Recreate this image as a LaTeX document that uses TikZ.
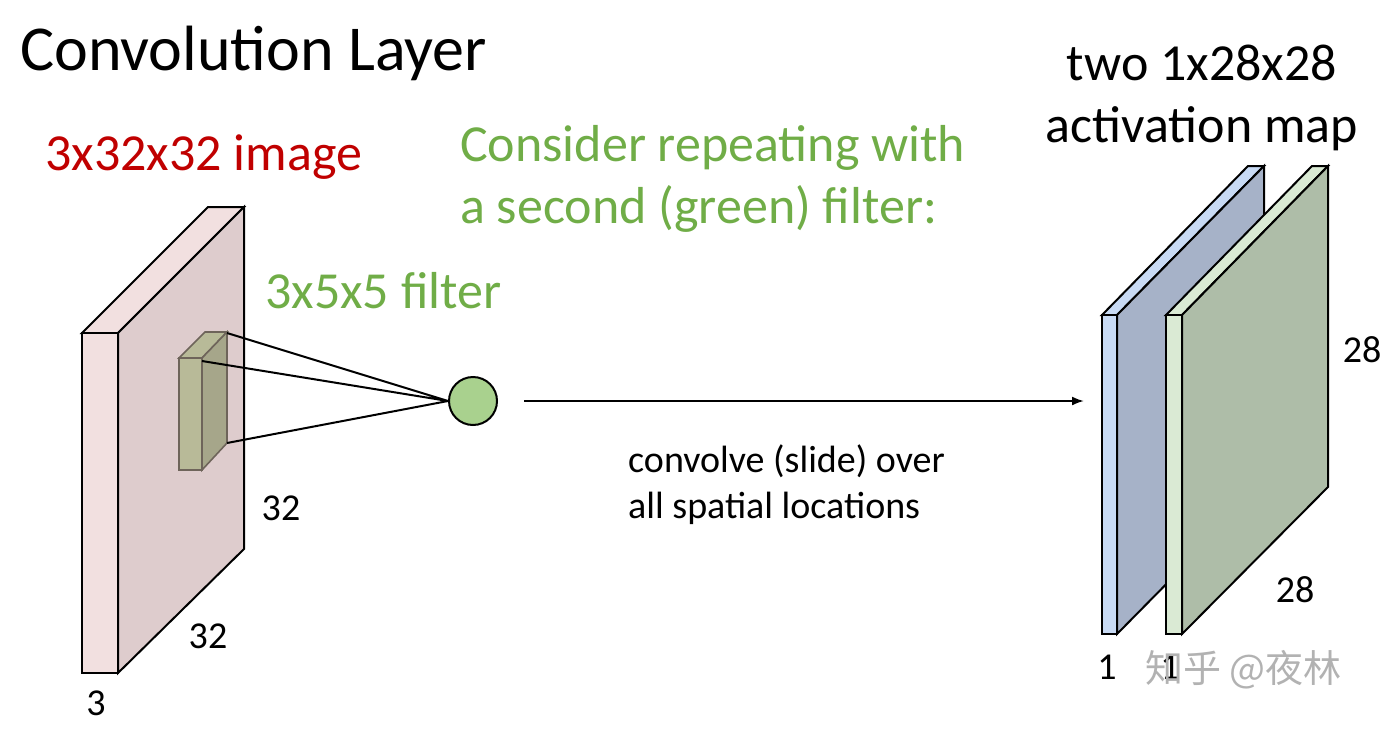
\documentclass[tikz,border=0pt]{standalone}
\usepackage{fontspec}
\usetikzlibrary{arrows.meta}
\setmainfont{Carlito}
\newfontfamily\cjk{Noto Sans CJK SC}
\definecolor{pinkF}{RGB}{242,224,224}
\definecolor{pinkS}{RGB}{222,204,205}
\definecolor{olF}{RGB}{184,186,152}
\definecolor{olS}{RGB}{166,166,138}
\definecolor{olE}{RGB}{110,100,90}
\definecolor{dotG}{RGB}{169,209,142}
\definecolor{bluF}{RGB}{200,218,244}
\definecolor{bluS}{RGB}{166,178,200}
\definecolor{grnF}{RGB}{218,234,212}
\definecolor{grnS}{RGB}{174,189,168}
\definecolor{txtR}{RGB}{192,0,0}
\definecolor{txtG}{RGB}{112,173,71}
\begin{document}
\begin{tikzpicture}[x=1pt,y=-1pt,
  face/.style={draw=black,line width=2pt,line join=miter},
  lbl/.style={font=\fontsize{38}{46}\selectfont,inner sep=0pt},
  big/.style={font=\fontsize{52}{62}\selectfont,inner sep=0pt,align=left}]
\useasboundingbox (0,0) rectangle (1397,728);
% left slab
\fill[pinkF,face] (82,333) -- (208,207) -- (244,207) -- (118,333) -- cycle;
\fill[pinkS,face] (118,333) -- (244,207) -- (244,549) -- (118,673) -- cycle;
\fill[pinkF,face] (82,333) rectangle (118,673);
% filter
\fill[olF,draw=olE,line width=1.6pt] (179,358) -- (205,332) -- (227,332) -- (202,358) -- cycle;
\fill[olS,draw=olE,line width=1.6pt] (202,358) -- (227,332) -- (227,443) -- (202,470) -- cycle;
\fill[olF,draw=olE,line width=1.6pt] (179,358) rectangle (202,470);
\coordinate (f1) at (227,333);
\coordinate (f2) at (202,361);
\coordinate (f3) at (227,443);
\node[circle,draw=black,line width=2pt,fill=dotG,minimum size=48pt,inner sep=0pt] (dot) at (473,401) {};
\draw[line width=2pt] (f1) -- (dot.west) (f2) -- (dot.west) (f3) -- (dot.west);
\coordinate (a0) at (524,401);
\coordinate (a1) at (1084,401);
\draw[line width=2pt,-{Latex[length=12pt,width=9pt]}] (a0) -- (a1);
% blue map
\fill[bluF,face] (1102,315) -- (1248,166) -- (1264,166) -- (1117,315) -- cycle;
\fill[bluS,face] (1117,315) -- (1264,166) -- (1264,485) -- (1117,634) -- cycle;
\fill[bluF,face] (1102,315) rectangle (1117,634);
% green map
\fill[grnF,face] (1166,315) -- (1312,166) -- (1328,166) -- (1182,315) -- cycle;
\fill[grnS,face] (1182,315) -- (1328,166) -- (1328,487) -- (1182,634) -- cycle;
\fill[grnF,face] (1166,315) rectangle (1182,634);
% texts
\node[anchor=west,inner sep=0pt,font=\fontsize{64}{70}\selectfont] (title) at (20,53) {Convolution Layer};
\node[big,anchor=west,text=txtR] (img) at (45,157) {3x32x32 image};
\node[big,anchor=north west,text=txtG] (cons) at (460,125) {Consider repeating with\\a second (green) filter:};
\node[big,anchor=west,text=txtG] (filt) at (265,291) {3x5x5 filter};
\node[big,anchor=north,align=center] (act) at (1202,45) {two 1x28x28\\activation map};
\node[lbl] (l32a) at (281,508) {32};
\node[lbl] (l32b) at (208,636) {32};
\node[lbl] (l3) at (96,703) {3};
\node[lbl] (l28a) at (1362,350) {28};
\node[lbl] (l28b) at (1295,590) {28};
\node[lbl] (l1a) at (1107,667) {1};
\node[lbl] (l1b) at (1170,667) {1};
\node[lbl,anchor=north west,align=left] (conv) at (628,444) {convolve (slide) over\\all spatial locations};
\node[inner sep=0pt,anchor=west,text=black!30,font=\cjk\fontsize{38}{40}\selectfont] (wm) at (1145,670) {知乎 @夜林};
\end{tikzpicture}
\end{document}
